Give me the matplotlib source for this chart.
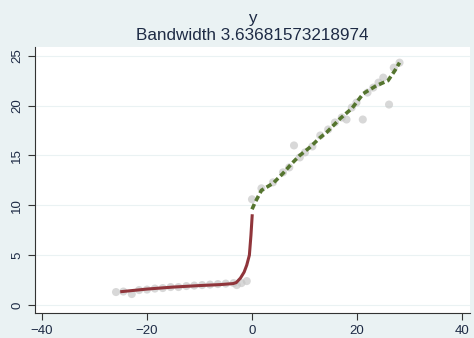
import numpy as np
import matplotlib.pyplot as plt

# scatter points (left segment, x < 0)
x_left = [-25.9, -24.5, -22.9, -21.5, -20.0, -18.5, -17.0, -15.5, -14.0, -12.5,
          -11.0, -9.5, -8.0, -6.5, -5.0, -3.5, -2.9, -2.0, -1.0]
y_left = [1.3, 1.35, 1.1, 1.5, 1.55, 1.65, 1.7, 1.8, 1.8, 1.9,
          1.95, 2.0, 2.05, 2.1, 2.15, 2.2, 2.0, 2.2, 2.4]

# scatter points (right segment, x >= 0)
x_right = [0.0, 1.8, 4.0, 5.9, 7.1, 8.0, 9.1, 10.1, 11.5, 13.0, 14.5, 15.8,
           17.1, 18.0, 19.0, 19.9, 21.1, 22.0, 23.1, 24.1, 25.0, 26.1, 27.0, 28.1]
y_right = [10.6, 11.7, 12.3, 13.3, 13.8, 16.0, 14.8, 15.3, 15.9, 17.0, 17.6, 18.3,
           18.8, 18.6, 19.8, 20.3, 18.6, 21.3, 21.8, 22.3, 22.8, 20.1, 23.8, 24.3]

# fitted lines
fit_left_x = [-25.1, -20.0, -15.0, -10.0, -6.0, -3.6, -3.0, -2.2, -1.5, -1.0, -0.5, -0.2, 0.05]
fit_left_y = [1.33, 1.6, 1.8, 1.95, 2.05, 2.15, 2.25, 2.7, 3.3, 4.0, 5.0, 7.0, 9.1]
fit_right_x = [0.0, 0.6, 1.8, 4.0, 5.9, 7.6, 9.1, 11.0, 13.0, 14.2, 16.8, 19.0,
               21.2, 23.7, 25.9, 27.2, 28.1]
fit_right_y = [9.6, 10.3, 11.5, 12.2, 13.2, 14.2, 15.0, 15.8, 16.8, 17.3, 18.7, 19.7,
               21.2, 22.0, 22.5, 23.5, 24.3]

bg = '#EAF2F3'
txt = '#1E2B45'

plt.rcParams['font.family'] = ['Liberation Sans', 'DejaVu Sans']

fig = plt.figure(figsize=(4.74, 3.38), dpi=100, facecolor=bg)
ax = fig.add_axes([35/474, 1 - 313/338, 435/474, 266/338])
ax.set_facecolor('white')

ax.scatter(x_left, y_left, s=34, color='#C4C4C4', alpha=0.65, edgecolors='none', zorder=2)
ax.scatter(x_right, y_right, s=34, color='#C4C4C4', alpha=0.65, edgecolors='none', zorder=2)
ax.plot(fit_left_x, fit_left_y, color='#90353B', lw=2.2, zorder=3, solid_capstyle='butt')
ax.plot(fit_right_x, fit_right_y, color='#55752F', lw=2.6, ls=(0, (1.6, 0.9)), zorder=3)

ax.set_xlim(-41.33, 41.52)
ax.set_ylim(-0.8, 25.87)
ax.set_xticks([-40, -20, 0, 20, 40])
ax.set_yticks([0, 5, 10, 15, 20, 25])
ax.grid(axis='y', color=bg, lw=0.8)
ax.set_axisbelow(True)

for s in ['top', 'right']:
    ax.spines[s].set_visible(False)
for s in ['left', 'bottom']:
    ax.spines[s].set_color('#333333')
    ax.spines[s].set_linewidth(0.8)

ax.tick_params(axis='both', direction='out', length=5, width=0.8, color='#333333',
               labelcolor=txt, labelsize=9.5)
plt.setp(ax.get_yticklabels(), rotation=90, va='center')

fig.text(252/474, 1 - 19/338, 'y', ha='center', va='center', fontsize=12.3, color=txt)
fig.text(252/474, 1 - 36/338, 'Bandwidth 3.63681573218974', ha='center', va='center',
         fontsize=12.3, color=txt)

fig.savefig('out.png', dpi=100, facecolor=bg)
